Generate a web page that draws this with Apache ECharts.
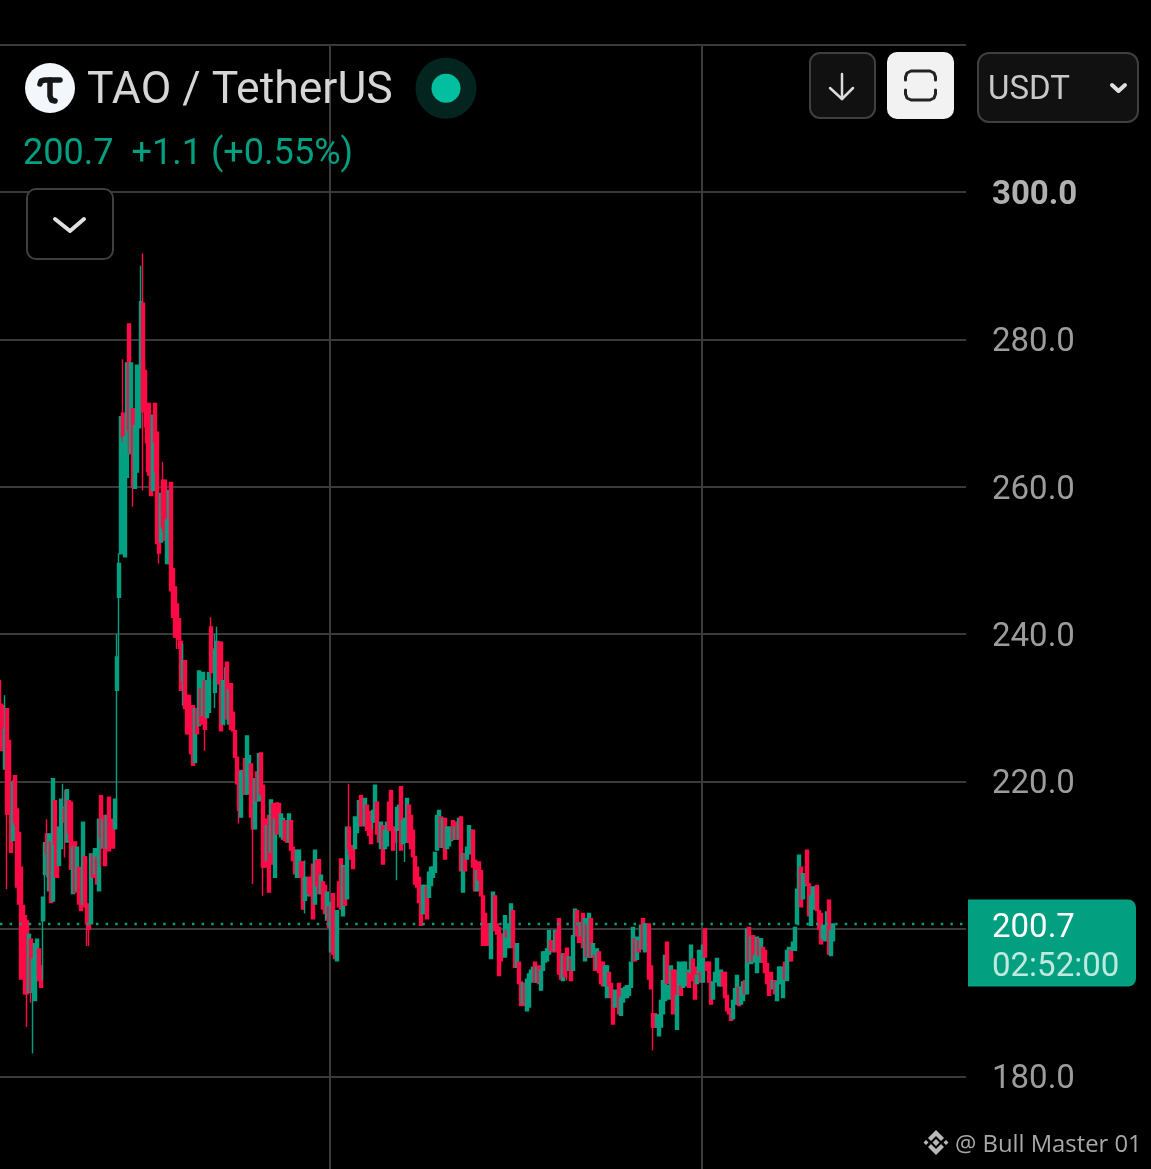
<!DOCTYPE html>
<html>
<head>
<meta charset="utf-8">
<style>html,body{margin:0;padding:0;background:#000}#c{width:1151px;height:1169px}</style>
<script src="https://cdn.jsdelivr.net/npm/echarts@6/dist/echarts.min.js"></script>
</head>
<body>
<div id="c"></div>
<script>
// rows: [open, close] or [open, close, low, high]
const earlyRange = [
[230.5,224.2,224.2,233.8],[230.3,226],[221.7,227.1,221.7,231.7],[229.9,215.6,205.4,229.9],[225.6,215.6],
[219.5,210.4,210.4,220],[212,219.9,212,220.2],[220.8,214.5,214,220.8],[216.3,205.7],[213.1,203.4],
[208.4,193.2],[203.2,196.4],[201.8,191.2],[201.1,191.2,186.7,201.1],[191.4,199.3],
[198.6,191.6,190,198.6],[191.4,195.9,183.1,196],[190.3,198],[193.2,198.6],[197.3,193],
[195,192.1],[201.1,204.3,193,204.3],[207.4,211.7,201.1,211.7],[212.9,210.2,207,214.9],[205.2,212.9],
[211.8,203.6],[203.8,220.4],[217.4,211.5,207,217.4],[211.8,207],[208.6,213.8],
[210.9,217.6],[214.7,216.5,214.7,219.7],[216.3,214.5,209.7,218.8],[211.8,218.9],[217.4,213.1,212,217.4],
[217.2,208.1],[204.8,211,204.8,211.3],[211.8,205],[205.2,211.1],[208.4,203.4],
[207.5,202.5],[203.4,214.5],[209.8,203],[203.4,200.7,197.7,209.6],[202,200,197.7,203],
[200.7,210.2],[210,207],[207.5,210.9,207.5,211],[209.7,206.1],[205.2,214.9],
[218.1,212.4,208.4,218.1],[211,214.9],[215.4,208.6],[211,215.4],[217.9,210.6],
[214.9,211.5],[213.8,211],[213.6,217.6]
];
const spike = [
[232.4,236.9,213.6,240],[245,249.6,236.8,251],[250.9,269.5],[270,266.8,266,277.3],[250.5,266.8],
[261.3,276.8],[282.1,267.7,264.5,282.1],[264.5,276.8],[270.6,260,257.3,270.6],[259.8,268.3],
[262,276.5],[268,276],[272,285.1,268,290],[284.9,270.2,259.5,291.7],[275.8,270.2,268,277],
[271.3,266,262,271.3],[271.3,261.6],[268.1,258.8],[259.5,269.7],[271.3,266,262,271.3],
[267.4,252.3],[255,251,249.6,257],[252.5,259.1],[260.9,254.6,254,263.4],[260.9,252.7],
[249.6,255.5],[249.6,259.5],[260.6,245.9],[248.9,242.3],[246.4,239.6],
[244.1,239.6,238,244.1],[242.1,239.3,238,242.1]
];
const slide = [
[239,232.4,232.4,240],[233.7,236.4,230.3,238.7],[236.4,229.9],[231.7,226.5],[231.7,226.5],
[228.7,223.8],[230.3,222.2],[222.6,229.9],[229.9,226.5],[227.6,235],
[232.6,227.8],[229,234.8],[233.7,227.1,224.2,233.7],[228.7,233.7],[229.4,234.8],
[241,235,234,242.3],[238,234.8],[232.1,237.8,230,240],[233.3,239,233.3,241],[238.9,233.3],
[238.9,226.9],[227.8,233.7],[231,233.5,227.6,235.5],[236.2,228.5],[227.8,232.4],
[233.3,227.1],[229.4,226.9],[226.9,223.3],[223.3,219.7],[221.5,216.1,214.3,221.5],
[215.2,221.3],[218.3,221.5],[223.1,218.3],[218.3,226.2],[218.6,223.5],
[222.4,215.2],[220.1,213.6,206.1,220.1],[213.6,220.4],[221.3,217.4],[217.4,223.8],
[223.9,218.3],[219.5,208.4,204.5,219.5],[214.9,208.4],[209.3,214],[215.4,205],
[210.4,217.5],[217,208.8],[207,214.9],[217.1,212.9],[217,213]
];
const midRange = [
[212.5,215.6],[212.2,215],[214.7,212],[214.5,211.8],[211.8,215.6],[214.7,210.7],[211.1,209.3],[210.4,207.5],[207,210.7],[207.9,210.7],
[209.1,207],[209.1,202.7],[203.9,207,202.1,209.3],[204.5,207],[207,204.8],[207,204.5],[208.8,201.4],[203.4,210.7],[209.3,205.9],[209.4,204.8],
[204.8,207.3],[206.4,202.7],[205.9,202.1],[201.2,205],[203,200.2],[196.9,203.6],[204.8,196.6],[199.3,196],[195.7,202.5],[206.4,203],
[209.5,202.7],[201.8,208.6],[208.4,203.2],[204.1,213.8],[213.8,210.9,210,219.7],[211.3,209.5],[211.3,208.2],[210.9,215.2],[213.1,214.7],[214,217.4],
[218.1,214],[216.5,214.3],[214,217.7],[216.8,213.4],[214.7,212.7],[215.9,211.6],[214.7,216.1,213.5,216.1],[214.5,219.5],[217.2,212.9],[213.8,211.8],
[210.9,214.5],[214,208.8],[210.9,213.4],[211.3,214.5],[217.2,213.4],[218.8,213.8],[213.8,210.7],[213.8,211.8],[213.4,216.5,206.6,216.5],[213.4,216.8],
[219.3,210.7],[211.6,214.7],[211.8,215,209.1,215],[211.8,217.7],[216.8,211.8],[215.4,210.9],[213.4,209.8],[209.8,206.1],[208.4,205.7],[207,203.6],
[205.9,200.5],[202.1,205.9],[202.1,205.9],[205.7,201.4],[204.3,207.7],[205.9,208.4],[207,208.4],[207.7,210.4],[210.7,215.4],[211.1,216.1],
[215.2,211.1],[211.1,215],[215,209.5],[210.9,213.8],[211.3,213.8],[212,213.8],[214.7,212.2],[212.2,213.8],[214.5,212.2],[212.2,215],
[215.2,207.9],[205,210.2],[210.2,207.9],[209.5,211.1],[210.2,214],[210.9,213.4],[213.4,208.4],[209.3,205.2],[205.2,207.9],[209.1,206.6],
[207.9,204.5],[204.5,197.8],[202.1,198],[200.7,197.8],[200.7,199.3],[196,200.7],[200.7,205],[204.5,199.8],[200.7,199.3],[200.2,193.7],
[199.3,195.7],[199.3,196.6],[196.2,201.8],[199.8,198.9],[197.5,200.7],[198.9,203.4],[202.5,197.5],[198,194.8],[194.8,198],[195.5,192.6],
[192.8,189.6],[189.8,192.6],[192.6,189.6],[188.9,193.2],[189.4,193.9],[192.8,194.4],[193,194.8],[195.5,192.8],[192.8,194.8],[195,192.6],
[191.7,194.4],[194.4,196.9],[195.5,196.9],[195.7,197.3],[196.6,199.8],[198.4,197.1],[198,196.9],[197.1,199.8],[199.6,196.9],[201.4,193.9]
];
const lateRange = [
[196.6,193.2],[193,196.6],[196.6,193.5],[197.4,194.8,193,197.4],[194.4,196.2],[195.9,193],[194.4,199.1],[199.1,202.7],[202.5,199.1],[200.2,198.2],
[199.1,200.9],[202.1,197.5],[195.7,201.4],[200.7,196.2],[196.2,202.1],[201.4,196.2],[196.2,198],[196.4,194.4],[194.6,197.3],[196.9,194.1],
[195.5,192.6],[195.5,192.3],[192.3,195],[190.7,195],[194.1,192.3],[192.6,190.7],[191.4,187.1],[189.4,191.7],[189.6,191.4],[192.6,188.5],
[188.3,190.7],[190.1,191.9],[190.7,192.1],[190.7,192.3],[191,192.3],[192.1,195.5],[195.7,200.2],[198.7,195.7],[195.9,198.9],[198.4,196.9],
[197.3,200.5],[201.4,197.3],[196.9,200.7],[197.3,199.1],[200.7,193.2],[195,191.9],[188.5,186.7,183.5,194.1],[188.5,186.7],[186.7,188.3],[185.5,188.3],
[186.7,190.3],[188.5,193],[190.3,196.4],[198.2,192.6],[190.5,192.3],[191,195],[194.4,188.5],[194.4,191],[186.4,191],[191,195.5],
[192.3,191],[192.1,195.5],[192.3,195.5],[192.8,194.4],[194.1,192.1],[194.1,197.8],[195.9,193],[194.8,190.5],[192.6,193.7],[193.9,197.1],
[194.1,192.8],[192.8,197.8],[200,196.2],[195.5,194.4],[195.5,192.8],[192.8,189.8],[190.5,192.8],[192.8,194.1],[193.9,196],[192.3,193.9],
[192.3,194.4],[194.1,192.3],[194.1,190.7],[191,188.9],[189.2,188.5],[188.9,187.6],[187.8,190.3],[190.3,191.9],[189.8,193.7],[192.1,189.6],
[189.8,192.1],[190.3,192.8],[193,191.2],[191.2,200],[200.2,195.5],[195.3,198.9],[199.1,195.7],[195.5,196.4],[194.1,198.9],[198.7,196.4],
[195.5,198.7],[197.5,195.5],[197.1,194.1],[195.3,192.6],[193.9,191],[194.1,192.6],[191.9,193],[193,191.2],[190.3,192.8],[192.6,194.8],
[192.6,194.8],[190.7,194.1],[195.5,193.2],[193,197.1],[195.7,197.5],[197.1,195.7],[197.1,198.2],[197.1,200.2],[200.7,205.4],[203.4,210],
[208.4,203],[204.1,207.5],[205.9,207.5],[210.7,206.1],[206.1,201.8],[200.5,204.5],[202.7,205.7],[202.7,205.7],[205.9,202.5],[202.5,200],
[202.1,198],[198.7,200.5],[198.4,199.3],[198.7,202.3],[203.9,196.6],[196.4,199.8],[198.4,200.7,198.4,200.7]
];
const lastPrice = 200.7;
const yTicksShown = [180, 220, 240, 260, 280, 300];
const slotCount = 483;
const verticalLineSlots = [165, 351];
const headerTitle = 'TAO / TetherUS';
const headerQuote = '200.7  +1.1 (+0.55%)';
const quoteUnit = 'USDT';
const priceTag = '200.7';
const countdownTag = '02:52:00';
const credit = '@ Bull Master 01';

const GREEN = '#02a080', RED = '#ff0a47', GRID = '#3a3a3a';
const rows = [...earlyRange, ...spike, ...slide, ...midRange, ...lateRange].map(r =>
  r.length === 4 ? r : [r[0], r[1], Math.min(r[0], r[1]), Math.max(r[0], r[1])]);
const categories = Array.from({length: slotCount}, (_, i) => String(i));

const txt = (x, y, text, font, fill) => ({
  type: 'text', x, y, z: 50,
  style: {text, font, fill, textAlign: 'left', textVerticalAlign: 'middle'}
});
const box = (x, y, w, h, r, fill, stroke) => ({
  type: 'rect', z: 40, shape: {x, y, width: w, height: h, r},
  style: {fill, stroke: stroke || null, lineWidth: stroke ? 2 : 0}
});
const stroke = (points, color, lw) => ({
  type: 'polyline', z: 45, shape: {points},
  style: {fill: null, stroke: color, lineWidth: lw, lineCap: 'round', lineJoin: 'round'}
});
const poly = (points, color) => ({type: 'polygon', z: 45, shape: {points}, style: {fill: color}});
const dot = (cx, cy, r, fill) => ({type: 'circle', z: 42, shape: {cx, cy, r}, style: {fill}});

const chart = echarts.init(document.getElementById('c'), null, {width: 1151, height: 1169, renderer: 'canvas'});
chart.setOption({
  animation: false,
  backgroundColor: '#000',
  grid: {left: 0, top: 44.6, width: 966, height: 1179.2, containLabel: false, outerBoundsMode: 'none'},
  xAxis: {
    type: 'category', data: categories, boundaryGap: true,
    axisLine: {show: false}, axisTick: {show: false}, axisLabel: {show: false},
    splitLine: {show: true, showMaxLine: false, interval: i => verticalLineSlots.includes(i), lineStyle: {color: GRID, width: 2}}
  },
  yAxis: {
    type: 'value', position: 'right', min: 160, max: 320, interval: 20, scale: true,
    axisLine: {show: false}, axisTick: {show: false},
    splitLine: {show: true, lineStyle: {color: GRID, width: 2}},
    axisLabel: {
      inside: false, margin: 26, color: '#9c9c9c', fontFamily: 'Roboto', fontSize: 33, padding: [7, 0, 0, 0],
      formatter: v => !yTicksShown.includes(v) ? '' : (v === 300 ? '{b|300.0}' : v.toFixed(1)),
      rich: {b: {fontFamily: 'Roboto', fontWeight: 'bold', fontSize: 33, color: '#b0b0b0'}}
    }
  },
  series: [{
    type: 'candlestick', data: rows, barWidth: 2.6, large: false, clip: true,
    itemStyle: {color: GREEN, color0: RED, borderColor: GREEN, borderColor0: RED, borderWidth: 1.4},
    markLine: {
      silent: true, symbol: 'none', animation: false, label: {show: false},
      lineStyle: {color: GREEN, type: [2.4, 7.2], width: 2.4},
      data: [{yAxis: lastPrice}]
    }
  }],
  graphic: {elements: [
    dot(50, 88, 25, '#f3f6fb'),
    stroke([[40, 84], [41, 81], [45, 80], [60, 80]], '#161616', 5.5),
    stroke([[50, 80], [50, 96], [51.5, 100], [55, 101]], '#161616', 5.5),
    txt(87, 92, headerTitle, '44.5px Roboto', '#d6d6d6'),
    dot(446, 88.3, 30.5, '#04251f'),
    dot(446, 88.3, 14.5, '#02bfa0'),
    txt(23, 155, headerQuote, '36.1px Roboto', GREEN),
    box(27, 189, 86, 70, 9, '#000', '#3f3f3f'),
    stroke([[55, 219], [70, 231], [84, 219]], '#e0e0e0', 4),
    box(810, 53, 65, 65, 10, '#111', '#3f3f3f'),
    stroke([[842, 74], [842, 99]], '#dcdcdc', 2.5),
    stroke([[830, 88], [842, 99], [853, 88]], '#dcdcdc', 2.5),
    box(887, 52, 67, 67, 10, '#f2f2f2'),
    stroke([[905.5, 80], [905.5, 77], [907, 73], [911, 71], [930, 71], [934, 73], [935.5, 77], [935.5, 80]], '#222', 3),
    stroke([[905.5, 90], [905.5, 94], [907, 98], [911, 100], [930, 100], [934, 98], [935.5, 94], [935.5, 90]], '#222', 3),
    box(978, 53, 160, 69, 11, '#111', '#3f3f3f'),
    txt(988, 91, quoteUnit, '33px Roboto', '#c8c8c8'),
    stroke([[1112, 85], [1118.5, 91], [1125, 85]], '#e0e0e0', 4),
    box(968, 899.5, 168, 87, [0, 8, 8, 0], GREEN),
    txt(992, 929, priceTag, '33px Roboto', '#fff'),
    txt(992, 968, countdownTag, '33px Roboto', '#bfe9df'),
    poly([[936, 1130], [944, 1138], [941, 1141], [936, 1136], [931, 1141], [928, 1138]], '#b8b8b8'),
    poly([[936, 1155], [928, 1147], [931, 1144], [936, 1149], [941, 1144], [944, 1147]], '#b8b8b8'),
    poly([[936, 1139], [939.5, 1142.5], [936, 1146], [932.5, 1142.5]], '#b8b8b8'),
    poly([[926, 1140], [928.5, 1142.5], [926, 1145], [923.5, 1142.5]], '#b8b8b8'),
    poly([[946, 1140], [948.5, 1142.5], [946, 1145], [943.5, 1142.5]], '#b8b8b8'),
    txt(955, 1145, credit, '23.8px "Open Sans"', '#a8a8a8')
  ]}
});
</script>
</body>
</html>
